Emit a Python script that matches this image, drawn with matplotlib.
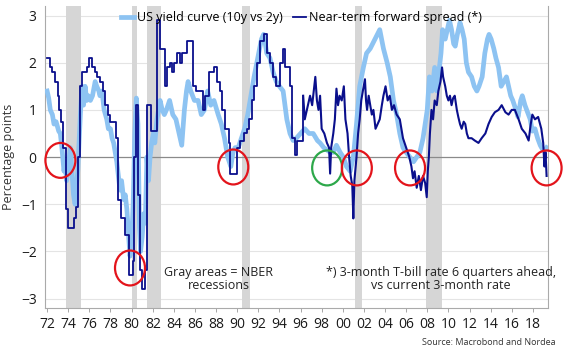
import matplotlib
matplotlib.use('Agg')
import matplotlib.pyplot as plt
from matplotlib.patches import Ellipse
import numpy as np

# ── Data ───────────────────────────────────────────────────────────────

# US yield curve, 10y minus 2y (light blue)
curve_x = [1972.0, 1972.15, 1972.3, 1972.5, 1972.65, 1972.85, 1973.1, 1973.25, 1973.4, 1973.5,
           1973.6, 1973.7, 1973.85, 1974.0, 1974.2, 1974.35, 1974.5, 1974.65, 1974.75, 1974.9,
           1975.0, 1975.15, 1975.3, 1975.45, 1975.6, 1975.75, 1975.9, 1976.1, 1976.3, 1976.55,
           1976.7, 1976.9, 1977.0, 1977.2, 1977.4, 1977.65, 1977.8, 1978.0, 1978.15, 1978.3,
           1978.45, 1978.6, 1978.75, 1978.9, 1979.05, 1979.25, 1979.4, 1979.55, 1979.7, 1979.85,
           1980.0, 1980.15, 1980.3, 1980.45, 1980.6, 1980.75, 1980.85, 1981.0, 1981.15, 1981.3,
           1981.45, 1981.6, 1981.75, 1981.9, 1982.05, 1982.2, 1982.4, 1982.55, 1982.7, 1982.9,
           1983.1, 1983.3, 1983.6, 1983.9, 1984.2, 1984.5, 1984.75, 1985.0, 1985.2, 1985.35,
           1985.6, 1985.95, 1986.3, 1986.6, 1986.9, 1987.2, 1987.5, 1987.8, 1988.2, 1988.5,
           1988.8, 1989.1, 1989.4, 1989.6, 1989.8, 1990.1, 1990.4, 1990.7, 1991.0, 1991.3,
           1991.6, 1991.95, 1992.3, 1992.5, 1992.6, 1992.8, 1993.1, 1993.4, 1993.7, 1994.0,
           1994.35, 1994.7, 1995.0, 1995.3, 1995.6, 1996.0, 1996.4, 1996.8, 1997.2, 1997.6,
           1997.85, 1998.2, 1998.5, 1998.8, 1999.1, 1999.4, 1999.75, 2000.05, 2000.35, 2000.7,
           2001.0, 2001.3, 2001.6, 2001.95, 2002.25, 2002.6, 2003.05, 2003.5, 2003.85, 2004.2,
           2004.5, 2004.8, 2005.1, 2005.4, 2005.7, 2006.0, 2006.35, 2006.7, 2007.0, 2007.3,
           2007.6, 2008.0, 2008.2, 2008.45, 2008.7, 2008.9, 2009.1, 2009.3, 2009.45, 2009.7,
           2009.9, 2010.1, 2010.3, 2010.5, 2010.65, 2010.85, 2011.1, 2011.3, 2011.5, 2011.7,
           2011.9, 2012.2, 2012.45, 2012.7, 2012.9, 2013.2, 2013.45, 2013.7, 2013.85, 2014.05,
           2014.3, 2014.5, 2014.75, 2015.0, 2015.25, 2015.5, 2015.7, 2015.9, 2016.1, 2016.4,
           2016.6, 2016.85, 2017.0, 2017.25, 2017.5, 2017.75, 2017.95, 2018.2, 2018.45, 2018.7,
           2018.95, 2019.15, 2019.3]
curve_y = [1.4, 1.25, 1.0, 0.9, 0.7, 0.75, 0.55, 0.5, 0.2, -0.05,
           -0.3, -0.1, -0.5, -0.2, 0.2, -0.3, -0.8, -1.0, -0.7, -0.3,
           0.2, 0.9, 1.5, 1.1, 1.5, 1.2, 1.3, 1.2, 1.3, 1.6,
           1.5, 1.4, 1.3, 1.4, 1.0, 0.8, 0.6, 0.6, 0.4, 0.3,
           0.1, -0.1, -0.4, -0.7, -0.5, -0.9, -0.8, -1.1, -1.6, -2.1,
           -1.8, -1.0, 0.5, 1.25, 0.7, -1.5, -2.0, -1.7, -1.2, -1.4,
           0.0, -0.5, 0.0, 0.3, 0.5, 0.3, 0.8, 1.0, 1.2, 1.0,
           0.9, 1.0, 1.2, 0.9, 0.8, 0.5, 0.25, 1.0, 1.4, 1.6,
           1.4, 1.2, 1.2, 0.9, 1.0, 1.4, 1.1, 1.2, 0.9, 0.7,
           0.4, 0.0, -0.2, 0.1, 0.2, 0.2, 0.4, 0.6, 0.9, 1.3,
           1.7, 2.1, 2.5, 2.6, 2.5, 2.2, 2.1, 1.8, 1.6, 1.5,
           1.4, 0.8, 0.5, 0.35, 0.4, 0.5, 0.6, 0.5, 0.5, 0.35,
           0.3, 0.2, 0.15, 0.1, 0.1, 0.25, 0.1, 0.0, -0.2, -0.3,
           0.0, 0.7, 1.5, 1.9, 2.2, 2.3, 2.5, 2.7, 2.3, 2.0,
           1.7, 1.2, 0.9, 0.5, 0.2, 0.1, 0.0, -0.1, 0.0, 0.1,
           0.4, 1.0, 1.7, 1.4, 1.9, 1.4, 1.8, 2.2, 2.7, 2.5,
           2.7, 2.9, 2.7, 2.4, 2.35, 2.6, 2.85, 2.7, 2.5, 2.0,
           1.8, 1.7, 1.5, 1.4, 1.5, 1.7, 2.2, 2.5, 2.6, 2.5,
           2.3, 2.1, 1.9, 1.5, 1.6, 1.7, 1.5, 1.3, 1.2, 1.0,
           0.85, 1.2, 1.3, 1.1, 0.95, 0.8, 0.55, 0.6, 0.4, 0.25,
           0.15, 0.15, 0.2]

# Near-term forward spread, quarterly part (drawn as steps)
fwd_q_x = [1972.0, 1972.25, 1972.5, 1972.75, 1973.0, 1973.15, 1973.3, 1973.55, 1973.75, 1974.0,
           1974.5, 1974.75, 1974.9, 1975.1, 1975.3, 1975.75, 1976.0, 1976.25, 1976.5, 1976.75,
           1977.0, 1977.25, 1977.5, 1977.75, 1978.0, 1978.5, 1978.75, 1979.0, 1979.4, 1979.75,
           1980.1, 1980.25, 1980.45, 1980.6, 1980.8, 1981.0, 1981.3, 1981.5, 1981.85, 1982.4,
           1982.72, 1983.19, 1983.35, 1983.6, 1983.85, 1984.05, 1984.3, 1984.55, 1984.8, 1985.25,
           1985.8, 1986.1, 1986.5, 1986.8, 1986.98, 1987.3, 1987.76, 1988.08, 1988.4, 1988.55,
           1988.86, 1989.18, 1989.34, 1990.0, 1990.29, 1990.6, 1990.9, 1991.1, 1991.4, 1991.55,
           1991.87, 1992.18, 1992.5, 1992.8, 1993.1, 1993.4, 1993.7, 1994.04, 1994.3, 1994.55,
           1995.0, 1995.15, 1995.5, 1995.7, 1996.25]
fwd_q_y = [2.1, 1.9, 1.8, 1.6, 1.3, 1.0, 0.75, 0.2, -1.1, -1.5,
           -1.3, -1.05, 0.0, 1.5, 1.8, 1.9, 2.1, 1.9, 1.8, 1.7,
           1.6, 1.4, 1.1, 0.9, 0.75, 0.4, -0.9, -1.3, -1.65, -2.5,
           -2.2, 0.0, 1.1, -0.8, -2.4, -2.8, -2.4, 1.1, 0.55, 2.9,
           2.3, 1.5, 1.9, 2.0, 1.8, 2.0, 2.2, 2.0, 2.2, 2.45,
           1.5, 1.4, 1.4, 1.0, 1.3, 1.8, 1.9, 1.6, 1.4, 1.0,
           0.6, 0.3, -0.35, 0.2, 0.35, 0.5, 0.6, 0.8, 1.2, 1.5,
           2.0, 2.45, 2.6, 2.2, 2.0, 1.7, 1.5, 2.0, 2.3, 1.9,
           1.5, 0.4, 0.05, 0.35, 1.3]

# Near-term forward spread, daily part
fwd_d_x = [1996.25, 1996.4, 1996.6, 1996.9, 1997.1, 1997.4, 1997.55, 1997.7, 1997.85, 1998.0,
           1998.25, 1998.5, 1998.7, 1998.8, 1998.9, 1999.1, 1999.25, 1999.4, 1999.55, 1999.7,
           1999.9, 2000.1, 2000.25, 2000.45, 2000.6, 2000.75, 2000.9, 2001.0, 2001.1, 2001.3,
           2001.45, 2001.6, 2001.75, 2001.9, 2002.1, 2002.2, 2002.3, 2002.45, 2002.6, 2002.75,
           2002.9, 2003.1, 2003.3, 2003.5, 2003.7, 2003.85, 2004.05, 2004.25, 2004.45, 2004.65,
           2004.85, 2005.1, 2005.4, 2005.7, 2006.0, 2006.3, 2006.5, 2006.65, 2006.8, 2007.0,
           2007.2, 2007.4, 2007.6, 2007.8, 2007.95, 2008.05, 2008.15, 2008.25, 2008.4, 2008.55,
           2008.7, 2008.9, 2009.05, 2009.25, 2009.4, 2009.5, 2009.7, 2009.85, 2010.0, 2010.15,
           2010.3, 2010.45, 2010.6, 2010.8, 2010.94, 2011.1, 2011.26, 2011.45, 2011.6, 2011.75,
           2011.9, 2012.2, 2012.5, 2012.85, 2013.15, 2013.5, 2013.8, 2014.1, 2014.4, 2014.75,
           2015.05, 2015.4, 2015.7, 2016.0, 2016.3, 2016.65, 2016.95, 2017.3, 2017.6, 2017.8,
           2017.95, 2018.2, 2018.5, 2018.8, 2018.98, 2019.1, 2019.2, 2019.3]
fwd_d_y = [1.3, 0.8, 1.0, 1.3, 1.1, 1.7, 1.2, 1.0, 1.3, 0.6,
           0.5, 0.3, 0.2, -0.35, 0.2, 0.5, 0.8, 1.45, 1.1, 1.3,
           1.2, 1.5, 0.8, 0.5, 0.0, -0.4, -0.6, -1.3, -0.5, 0.0,
           0.5, 0.8, 1.2, 1.4, 1.65, 1.2, 1.0, 1.3, 1.1, 0.9,
           1.0, 0.6, 0.7, 0.8, 1.1, 1.3, 1.5, 1.2, 1.3, 1.0,
           1.1, 0.9, 0.8, 0.4, 0.2, 0.0, -0.2, -0.45, -0.3, -0.65,
           -0.4, -0.7, -0.4, -0.55, -0.85, -0.3, 0.0, 0.5, 1.0, 0.8,
           1.2, 1.1, 1.4, 1.6, 1.9, 1.7, 1.5, 1.3, 1.2, 1.3,
           1.1, 1.25, 1.3, 1.0, 0.85, 0.7, 0.6, 0.75, 0.7, 0.5,
           0.4, 0.4, 0.35, 0.3, 0.4, 0.5, 0.7, 0.85, 0.95, 1.0,
           1.1, 0.95, 0.9, 1.0, 1.0, 0.8, 0.6, 0.5, 0.35, 0.7,
           0.9, 0.8, 0.85, 0.6, 0.3, -0.2, 0.1, -0.4]

# NBER recessions (start, end)
rec_start = [1973.83, 1980.0, 1981.5, 1990.5, 2001.17, 2007.92]
rec_end = [1975.17, 1980.5, 1982.83, 1991.17, 2001.83, 2009.42]

# Highlight circles: centre year, centre value, colour
circ_x = [1973.26, 1979.85, 1989.63, 1998.52, 2001.33, 2006.37, 2019.3]
circ_y = [-0.07, -2.35, -0.21, -0.23, -0.23, -0.23, -0.23]
circ_c = ['red', 'red', 'red', 'green', 'red', 'red', 'red']

xtick_years = list(range(1972, 2019, 2))

LIGHT = '#8DC3F2'
DARK = '#0A0F8C'
BAND = '#D6D6D6'
RED = '#E3141B'
GREEN = '#2DA84A'

plt.rcParams['font.family'] = ['Open Sans', 'DejaVu Sans']

fig = plt.figure(figsize=(5.66, 3.57), dpi=100)
ax = fig.add_axes([0.0795, 0.137, 0.889, 0.846])

for s, e in zip(rec_start, rec_end):
    ax.axvspan(s, e, color=BAND, lw=0, zorder=1)

for v in range(-3, 4):
    if v == 0:
        ax.axhline(0, color='#8a8a8a', lw=0.9, zorder=2)
    else:
        ax.axhline(v, color='#e4e4e4', lw=0.8, zorder=0.5)

ax.plot(curve_x, curve_y, color=LIGHT, lw=3.4, zorder=3, solid_joinstyle='round',
        label='US yield curve (10y vs 2y)')
ax.plot(fwd_q_x, fwd_q_y, color=DARK, lw=1.3, drawstyle='steps-post', zorder=4,
        label='Near-term forward spread (*)')
ax.plot(fwd_d_x, fwd_d_y, color=DARK, lw=1.5, zorder=4)

for cx, cy, cc in zip(circ_x, circ_y, circ_c):
    col = GREEN if cc == 'green' else RED
    ax.add_patch(Ellipse((cx, cy), 2.84, 0.74, fill=False, ec=col, lw=1.6,
                         zorder=6, clip_on=False))

ax.set_xlim(1971.8, 2019.45)
ax.set_ylim(-3.2, 3.2)
ax.set_xticks(xtick_years)
ax.set_xticklabels([f'{y % 100:02d}' for y in xtick_years])
ax.set_yticks(range(-3, 4))
ax.tick_params(axis='both', labelsize=10, colors='#1a1a1a', length=3, width=0.6)
ax.tick_params(axis='x', color='#999999')
ax.tick_params(axis='y', length=0, pad=6)
for side in ['left', 'bottom', 'right']:
    ax.spines[side].set_color('#aaaaaa')
    ax.spines[side].set_linewidth(0.8)
ax.spines['top'].set_visible(False)
ax.set_ylabel('Percentage points', fontsize=9, color='#333333', labelpad=4)

ax.legend(loc='upper center', bbox_to_anchor=(0.51, 1.02), ncol=2, frameon=False,
          fontsize=9, handlelength=1.0, handletextpad=0.3, columnspacing=0.8)

ax.text(0.345, 0.095, 'Gray areas = NBER\nrecessions', transform=ax.transAxes,
        ha='center', va='center', fontsize=9, color='#222222', linespacing=1.0)
ax.text(0.787, 0.095, '*) 3-month T-bill rate 6 quarters ahead,\nvs current 3-month rate',
        transform=ax.transAxes, ha='center', va='center', fontsize=9,
        color='#222222', linespacing=1.0)
fig.text(0.981, 0.04, 'Source: Macrobond and Nordea', ha='right', va='center',
         fontsize=6.5, color='#333333')

fig.savefig('out.png', dpi=100)
